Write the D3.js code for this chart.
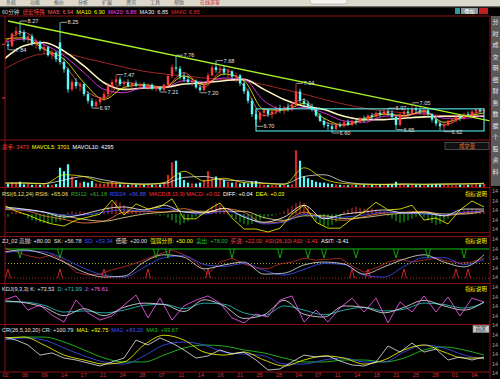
<!DOCTYPE html>
<html>
<head>
<meta charset="utf-8">
<script src="https://cdn.jsdelivr.net/npm/d3@7"></script>
<style>
body { margin: 0; background: #000; }
svg { display: block; }
text { font-family: "Liberation Sans", "Noto Sans CJK SC", sans-serif; }
</style>
</head>
<body>
<div id="chart-area"></div>
<script>
// 60 minute bars: [open, high, low, close]
var candles = [
  [7.98,8.05,7.90,7.92],[7.92,7.96,7.84,7.90],[7.90,8.10,7.88,8.08],[8.08,8.18,8.02,8.12],[8.12,8.27,8.05,8.10],
  [8.10,8.14,7.96,8.00],[8.00,8.06,7.94,8.04],[8.04,8.08,7.90,7.94],[7.94,8.00,7.86,7.96],[7.96,7.98,7.82,7.85],
  [7.85,7.92,7.78,7.88],[7.88,7.90,7.74,7.76],[7.76,7.84,7.70,7.80],[7.80,7.82,7.66,7.70],[7.95,8.25,7.62,7.66],
  [7.66,7.72,7.50,7.55],[7.55,7.58,7.20,7.25],[7.25,7.40,7.22,7.36],[7.36,7.42,7.26,7.30],[7.30,7.36,7.22,7.33],
  [7.33,7.35,7.15,7.18],[7.18,7.22,7.04,7.08],[7.08,7.12,6.97,7.00],[7.00,7.10,6.98,7.06],[7.06,7.14,7.02,7.12],
  [7.12,7.22,7.08,7.18],[7.18,7.34,7.14,7.30],[7.30,7.40,7.24,7.36],[7.36,7.47,7.30,7.40],[7.40,7.44,7.30,7.33],
  [7.33,7.38,7.26,7.35],[7.35,7.40,7.28,7.30],[7.30,7.36,7.26,7.34],[7.34,7.38,7.28,7.31],[7.31,7.35,7.25,7.33],
  [7.33,7.36,7.26,7.28],[7.28,7.34,7.24,7.32],[7.32,7.34,7.24,7.26],[7.26,7.30,7.22,7.28],[7.28,7.30,7.21,7.24],
  [7.24,7.34,7.22,7.32],[7.32,7.48,7.30,7.45],[7.45,7.62,7.42,7.58],[7.58,7.76,7.52,7.56],[7.56,7.60,7.40,7.44],
  [7.44,7.50,7.36,7.40],[7.40,7.46,7.32,7.36],[7.36,7.42,7.30,7.38],[7.38,7.40,7.26,7.28],[7.28,7.32,7.20,7.24],
  [7.24,7.36,7.22,7.34],[7.34,7.50,7.32,7.46],[7.46,7.62,7.44,7.58],[7.58,7.68,7.50,7.54],[7.54,7.60,7.46,7.56],
  [7.56,7.60,7.46,7.50],[7.50,7.56,7.42,7.52],[7.52,7.54,7.40,7.44],[7.44,7.50,7.36,7.46],[7.46,7.48,7.30,7.34],
  [7.34,7.38,7.18,7.22],[7.22,7.26,7.04,7.08],[7.08,7.12,6.84,6.88],[6.88,6.94,6.70,6.80],[6.80,6.92,6.76,6.90],
  [6.90,6.98,6.84,6.94],[6.94,6.96,6.84,6.88],[6.88,6.94,6.82,6.92],[6.92,7.00,6.88,6.96],[6.96,7.02,6.90,6.94],
  [6.94,7.00,6.88,6.98],[6.98,7.04,6.92,6.96],[6.96,7.06,6.92,7.02],[7.02,7.34,7.00,7.22],[7.22,7.26,7.04,7.08],
  [7.08,7.12,7.00,7.04],[7.04,7.08,6.96,7.00],[7.00,7.04,6.92,6.95],[6.95,6.98,6.84,6.86],[6.86,6.90,6.76,6.78],
  [6.78,6.82,6.68,6.72],[6.72,6.76,6.64,6.70],[6.70,6.74,6.60,6.66],[6.66,6.74,6.64,6.72],[6.72,6.76,6.68,6.70],
  [6.70,6.78,6.68,6.76],[6.76,6.80,6.70,6.72],[6.72,6.80,6.70,6.78],[6.78,6.82,6.72,6.76],[6.76,6.84,6.74,6.82],
  [6.82,6.86,6.76,6.80],[6.80,6.88,6.78,6.86],[6.86,6.90,6.80,6.84],[6.84,6.92,6.82,6.90],[6.90,6.94,6.84,6.88],
  [6.88,6.96,6.86,6.92],[6.92,6.97,6.86,6.90],[6.90,6.94,6.80,6.84],[6.84,6.86,6.65,6.72],[6.72,6.90,6.70,6.88],
  [6.88,6.96,6.84,6.92],[6.92,6.98,6.86,6.90],[6.90,7.05,6.88,6.96],[6.96,7.00,6.90,6.94],[6.94,6.98,6.88,6.92],
  [6.92,6.96,6.86,6.94],[6.94,6.96,6.84,6.88],[6.88,6.90,6.76,6.80],[6.80,6.84,6.70,6.74],[6.74,6.78,6.64,6.70],
  [6.70,6.76,6.62,6.72],[6.72,6.80,6.70,6.78],[6.78,6.82,6.74,6.80],[6.80,6.86,6.76,6.84],[6.84,6.88,6.78,6.82],
  [6.82,6.90,6.80,6.88],[6.88,6.92,6.84,6.86],[6.86,6.94,6.84,6.92],[6.92,6.96,6.88,6.95],[6.95,6.97,6.90,6.93],
  [6.93,6.97,6.90,6.94]
];

var volumes = [
  4000,3500,5000,4500,6000,3000,3500,2500,3000,2500,3000,2800,2500,3500,
  22000,18000,26000,12000,8000,5000,6000,5000,7000,4000,4000,3500,5000,6000,5000,3000,
  3000,2500,3500,2800,3000,2500,3000,2600,2800,3000,
  5000,14000,28000,30000,16000,8000,5000,4000,4000,5000,
  8000,18000,10000,12000,9000,8000,6000,5000,6000,4000,
  5000,4000,6000,7000,3000,2500,2200,2400,2000,2500,
  2200,2600,3000,42000,30000,12000,10000,8000,6000,5000,
  5000,4000,3500,3000,2500,2200,2000,2400,2200,2000,
  2200,2000,2400,2500,2200,2000,3000,2800,6000,3500,
  3000,2500,2800,2400,2200,2000,2400,2600,3000,2800,
  3000,2400,2200,2000,2400,2200,2500,3000,3200,3000,3473
];

var dateLabels = ["02","06","09","14","17","21","24","28","07","11","14","16","21",
                  "25","28","04","07","11","14","18","21","25","28","01","04"];

// moving averages, one value every 5 bars
var ma5  = [7.95,8.10,7.86,7.62,7.25,7.12,7.36,7.30,7.28,7.50,7.28,7.55,7.30,6.86,6.96,7.10,6.76,6.72,6.82,6.90,6.84,6.94,6.72,6.84,6.94];
var ma10 = [8.00,8.02,7.85,7.70,7.35,7.10,7.28,7.32,7.28,7.45,7.32,7.48,7.38,6.95,6.94,7.04,6.82,6.72,6.80,6.88,6.86,6.92,6.76,6.84,6.90];
var ma20 = [7.95,8.00,7.92,7.75,7.50,7.25,7.20,7.28,7.28,7.38,7.36,7.42,7.40,7.08,6.95,6.98,6.90,6.78,6.76,6.85,6.86,6.90,6.82,6.82,6.86];
var ma30 = [7.70,7.90,7.95,7.82,7.60,7.35,7.25,7.27,7.28,7.33,7.35,7.38,7.40,7.25,7.10,7.00,6.95,6.85,6.80,6.80,6.82,6.84,6.85,6.85,6.85];
var ma60 = [7.55,7.70,7.78,7.78,7.72,7.65,7.58,7.52,7.48,7.45,7.42,7.40,7.38,7.32,7.25,7.18,7.10,7.03,6.97,6.93,6.90,6.88,6.86,6.85,6.85];

// [bar, price] of the marked highs and lows
var priceMarks = [[4,8.27],[14,8.25],[1,7.84],[22,6.97],[28,7.47],[39,7.21],[43,7.76],[49,7.20],
                  [53,7.68],[63,6.70],[73,7.34],[82,6.60],[96,6.97],[98,6.65],[102,7.05],[110,6.62]];
var trendLine = [[1,8.27],[121.5,6.78]];
var boxRange = [63,120,6.96,6.63];

var mavol5  = [4500,4500,3500,14000,12000,5000,4000,3000,5000,18000,7000,10000,5000,4000,3000,22000,9000,4000,3000,3000,3500,3000,3500,3500,3700];
var mavol10 = [4500,4600,4000,8000,12000,8000,4500,3500,4000,11000,12000,8000,7000,4500,3500,12000,14000,6000,3500,3000,3200,3200,3200,3500,4300];

// RSI6 one value every 3 bars, others every 5 bars
var rsi6 = [73,59,50,38,29,24,38,45,52,85,50,76,64,69,88,41,41,62,78,43,17,17,10,19,52,73,33,19,19,41,57,80,62,64,73,38,43,29,62,83,69];
var rsi12 = [69,64,57,45,52,64,69,62,73,57,55,66,45,33,45,73,41,52,57,62,55,55,48,64,64];
var rsi24 = [66,62,57,50,50,57,62,59,66,57,52,59,48,29,33,52,43,45,50,57,55,52,50,57,59];
var diff = [0.05,0.04,-0.02,-0.06,-0.10,-0.08,0.02,0.03,0.02,0.06,0.01,0.06,0.02,-0.10,-0.08,0.02,-0.04,-0.07,-0.03,0.01,0.02,0.03,-0.02,0.01,0.04];
var dea  = [0.06,0.05,0.02,-0.02,-0.06,-0.08,-0.04,0.00,0.02,0.03,0.03,0.03,0.03,-0.04,-0.07,-0.02,-0.02,-0.05,-0.04,-0.01,0.01,0.02,0.00,0.00,0.03];
var macdBar = [
  -0.02,-0.03,0.02,0.03,0.02,-0.01,
  -0.05,-0.07,-0.08,-0.09,-0.10,-0.11,-0.10,-0.09,-0.08,-0.06,
  0.02,0.03,0.02,0.03,0.02,0.01,
  -0.02,-0.01,0.01,
  0.04,0.08,0.12,0.15,0.13,0.10,0.07,
  0.05,0.04,0.03,0.02,0.02,0.01,-0.01,-0.02,-0.01,
  -0.04,-0.07,-0.10,-0.12,-0.10,-0.08,-0.05,
  -0.03,-0.02,0.01,
  0.05,0.09,0.12,0.10,0.07,0.04,
  -0.03,-0.06,-0.09,-0.11,-0.12,-0.11,-0.09,-0.07,
  -0.05,-0.03,-0.02,-0.01,0.01,
  0.03,0.06,0.09,0.12,0.14,0.12,0.08,
  -0.04,-0.08,-0.11,-0.13,-0.14,-0.12,-0.09,-0.06,
  0.03,0.05,0.07,0.08,0.07,0.06,0.05,0.06,0.05,0.04,0.03,
  -0.02,-0.05,-0.08,-0.10,-0.09,-0.07,-0.05,-0.03,-0.02,
  -0.04,-0.07,-0.10,-0.12,-0.11,-0.08,-0.05,
  0.01,0.02,0.03,0.04,0.05,0.06,0.05,0.04,0.03
];

var zjLevels = [80,50,20];
var zjSk = [74,78,70,53,32,22,24,53,68,63,39,47,53,28,30,47,53,49,28,43,59,68,53,43,68];
var zjSd = [72,76,74,60,40,26,22,42,62,66,48,44,50,36,26,38,50,48,26,22,44,62,62,48,58];
var asi = [82,74,66,61,68,55,32,26,28,37,43,51,61,70,78,68,53,28,53,61,49,41,39,49,53,61,57,59,61,45,32,41,53,59,53,57,61,55,51,53,61];
var sellMarks = [4,14,38,41,57,69,76,80,88,98,106,115];
var buyMarks = [1,14,25,36,51,87,91,100,113,116];

var kdjK = [78,72,55,25,50,25,55,70,65,40,82,60,15,28,80,30,20,60,55,35,55,80,60,45,74];
var kdjD = [75,74,62,38,42,35,45,62,66,50,70,66,35,25,60,45,28,45,55,42,48,70,65,52,72];
var kdjJ = [81,96,45,63,27,2,81,35,9,24,63,99,17,88,9,60,81,96,70,17,-1,31,20,81,96,2,45,2,53,88,38,88,-1,74,38,96,38,92,24,88,74];

var crLine = [233,213,180,113,127,93,80,60,40,67,93,213,180,227,193,147,93,107,147,120,133,80,13,20,67,113,100,107,73,47,40,67,173,133,193,133,153,80,100,80,100];
var crMa1 = [227,233,180,113,80,53,67,180,245,213,133,113,133,80,40,80,107,93,53,80,147,180,133,93,93];
var crMa2 = [213,227,213,160,107,67,53,107,180,200,180,133,120,107,53,53,80,93,67,67,133,180,160,113,87];
var crMa3 = [213,233,233,200,147,93,67,67,113,160,180,173,147,127,93,67,67,80,80,67,93,147,167,147,113];

var W = 500, H = 379;
var svg = d3.select("#chart-area").append("svg")
    .attr("width", W)
    .attr("height", H)
    .style("background", "#000");

var frame = "#8c1010";
var red = "#ff3c3c", cyan = "#54fcfc", yellow = "#ffff00", white = "#ffffff",
    magenta = "#ff40ff", green = "#20c020", blue = "#4050ff";

var x = d3.scaleLinear().domain([0, candles.length - 1]).range([4, 484]);
var xDate = d3.scaleLinear().domain([0, dateLabels.length - 1]).range([5, 474]);

var panels = {
    price: { top: 16.5, bottom: 140 },
    vol:   { top: 150, bottom: 187 },
    rsi:   { top: 197, bottom: 236 },
    zj:    { top: 244, bottom: 283 },
    kdj:   { top: 292, bottom: 324 },
    cr:    { top: 333, bottom: 372 }
};

var defs = svg.append("defs");
Object.keys(panels).forEach(function(k) {
    var p = panels[k];
    defs.append("clipPath").attr("id", "clip-" + k)
        .append("rect")
        .attr("x", 5.5).attr("y", p.top)
        .attr("width", 484).attr("height", p.bottom - p.top);
});

function layer(name) {
    return svg.append("g").attr("clip-path", "url(#clip-" + name + ")");
}

function series(arr, step) {
    return arr.map(function(v, k) { return { i: k * step, v: v }; });
}

function drawLine(g, data, y, color, width, smooth) {
    var line = d3.line()
        .x(function(d) { return x(d.i); })
        .y(function(d) { return y(d.v); })
        .curve(smooth ? d3.curveMonotoneX : d3.curveLinear);
    g.append("path")
        .datum(data)
        .attr("d", line)
        .attr("fill", "none")
        .attr("stroke", color)
        .attr("stroke-width", width || 0.8);
}

function title(yPos, parts, x0) {
    var t = svg.append("text")
        .attr("x", x0 || 2)
        .attr("y", yPos)
        .attr("font-size", "5.6px");
    parts.forEach(function(p, k) {
        t.append("tspan")
            .attr("dx", k == 0 ? 0 : 3)
            .attr("fill", p[1])
            .text(p[0]);
    });
}

function button(x0, y0, w, h, label, fill, stroke, color) {
    svg.append("rect")
        .attr("x", x0).attr("y", y0)
        .attr("width", w).attr("height", h)
        .attr("fill", fill).attr("stroke", stroke).attr("stroke-width", 0.6);
    svg.append("text")
        .attr("x", x0 + w / 2).attr("y", y0 + h - 1.6)
        .attr("text-anchor", "middle")
        .attr("font-size", "5.4px")
        .attr("fill", color)
        .text(label);
}

// top menu strip
svg.append("rect").attr("x", 0).attr("y", 0).attr("width", W).attr("height", 6.5).attr("fill", "#dcd9cc");
svg.append("rect").attr("x", 0).attr("y", 6.5).attr("width", W).attr("height", 0.8).attr("fill", "#6c6a60");
["系统", "功能", "报价", "分析", "扩展", "资讯", "工具", "帮助"].forEach(function(s, k) {
    svg.append("text").attr("x", 6 + k * 24).attr("y", 3.6).attr("font-size", "5px")
        .attr("fill", "#555").text(s);
});
svg.append("text").attr("x", 200).attr("y", 3.6).attr("font-size", "5px").attr("fill", "#d02020").text("在线游客");
svg.append("rect").attr("x", 310).attr("y", -2).attr("width", 37).attr("height", 6)
    .attr("rx", 3).attr("fill", "#f4f4f0").attr("stroke", "#999").attr("stroke-width", 0.5);

// frame lines
[16, 140, 187.5, 236.5, 283.5, 324.5, 372].forEach(function(yy) {
    svg.append("line").attr("x1", 0).attr("x2", 490).attr("y1", yy).attr("y2", yy)
        .attr("stroke", frame).attr("stroke-width", 1);
});
svg.append("line").attr("x1", 5).attr("x2", 5).attr("y1", 16).attr("y2", 372)
    .attr("stroke", frame).attr("stroke-width", 1);
svg.append("line").attr("x1", 490).attr("x2", 490).attr("y1", 16).attr("y2", 379)
    .attr("stroke", frame).attr("stroke-width", 1);

// ---- price panel
var yPrice = d3.scaleLinear().domain([6.60, 8.27]).range([133, 21]);
var gp = layer("price");

drawLine(gp, series(ma60, 5), yPrice, "#b02828", 0.9, true);
drawLine(gp, series(ma30, 5), yPrice, "#fff4c0", 1.6, true);
drawLine(gp, series(ma20, 5), yPrice, magenta, 0.8, true);
drawLine(gp, series(ma10, 5), yPrice, yellow, 0.8, true);
drawLine(gp, series(ma5, 5), yPrice, "#ff6060", 0.8, true);

var bw = 2.4;
var cg = gp.selectAll(".candle").data(candles).enter().append("g").attr("class", "candle");
cg.append("line")
    .attr("x1", function(d, i) { return x(i); })
    .attr("x2", function(d, i) { return x(i); })
    .attr("y1", function(d) { return yPrice(d[1]); })
    .attr("y2", function(d) { return yPrice(d[2]); })
    .attr("stroke", function(d) { return d[3] >= d[0] ? red : cyan; })
    .attr("stroke-width", 0.8);
cg.append("rect")
    .attr("x", function(d, i) { return x(i) - bw / 2; })
    .attr("y", function(d) { return yPrice(Math.max(d[0], d[3])); })
    .attr("width", bw)
    .attr("height", function(d) { return Math.max(0.8, Math.abs(yPrice(d[0]) - yPrice(d[3]))); })
    .attr("fill", function(d) { return d[3] >= d[0] ? red : cyan; });

gp.append("line")
    .attr("x1", x(trendLine[0][0])).attr("y1", yPrice(trendLine[0][1]))
    .attr("x2", x(trendLine[1][0])).attr("y2", yPrice(trendLine[1][1]))
    .attr("stroke", "#a8f028").attr("stroke-width", 1.3);

gp.append("rect")
    .attr("x", x(boxRange[0])).attr("y", yPrice(boxRange[2]))
    .attr("width", x(boxRange[1]) - x(boxRange[0]))
    .attr("height", yPrice(boxRange[3]) - yPrice(boxRange[2]))
    .attr("fill", "none").attr("stroke", "#60ffff").attr("stroke-width", 1);

priceMarks.forEach(function(m) {
    var px = x(m[0]), py = yPrice(m[1]);
    gp.append("line").attr("x1", px + 0.5).attr("x2", px + 7).attr("y1", py).attr("y2", py)
        .attr("stroke", "#e0e0e0").attr("stroke-width", 0.7);
    gp.append("text").attr("x", px + 7.5).attr("y", py + 2)
        .attr("font-size", "5.6px").attr("fill", "#e0e0e0")
        .text(m[1].toFixed(2));
});

// left price ticks
svg.append("g")
    .attr("transform", "translate(5,0)")
    .call(d3.axisLeft(yPrice).tickValues([7.93, 7.13]).tickSize(3).tickFormat(""))
    .call(function(g) {
        g.select(".domain").remove();
        g.selectAll("line").attr("stroke", red);
    });

// ---- volume panel
var yVol = d3.scaleLinear().domain([0, 40000]).range([187, 152]);
var gv = layer("vol");
gv.selectAll(".vbar").data(volumes).enter().append("rect")
    .attr("x", function(d, i) { return x(i) - 1.1; })
    .attr("y", function(d) { return yVol(d); })
    .attr("width", 2.2)
    .attr("height", function(d) { return 187 - yVol(d); })
    .attr("fill", function(d, i) { return candles[i][3] >= candles[i][0] ? "#d02828" : cyan; });
drawLine(gv, series(mavol10, 5), yVol, white, 0.7, true);
drawLine(gv, series(mavol5, 5), yVol, yellow, 0.7, true);

// ---- RSI / MACD panel
var yRsi = d3.scaleLinear().domain([10, 90]).range([232, 198]);
var yMacd = d3.scaleLinear().domain([-0.2, 0.2]).range([232, 196]);
var gr = layer("rsi");
gr.append("line").attr("x1", 5).attr("x2", 490).attr("y1", 232.5).attr("y2", 232.5)
    .attr("stroke", frame).attr("stroke-width", 0.8);
gr.selectAll(".mbar").data(macdBar).enter().append("line")
    .attr("x1", function(d, i) { return x(i); })
    .attr("x2", function(d, i) { return x(i); })
    .attr("y1", yMacd(0))
    .attr("y2", function(d) { return yMacd(d); })
    .attr("stroke", function(d) { return d >= 0 ? "#e03030" : "#10c010"; })
    .attr("stroke-width", 1);
drawLine(gr, series(diff, 5), yMacd, "#ff8040", 0.8, true);
drawLine(gr, series(dea, 5), yMacd, "#f0e090", 0.8, true);
drawLine(gr, series(rsi24, 5), yRsi, blue, 0.8, true);
drawLine(gr, series(rsi12, 5), yRsi, white, 0.8, true);
drawLine(gr, series(rsi6, 3), yRsi, yellow, 0.8, false);

// ---- ZJ_02 panel
var yZj = d3.scaleLinear().domain([0, 100]).range([287.7, 239.3]);
var gz = layer("zj");
gz.append("line").attr("x1", 5).attr("x2", 490).attr("y1", yZj(zjLevels[0])).attr("y2", yZj(zjLevels[0]))
    .attr("stroke", "#10c010").attr("stroke-width", 1);
gz.append("line").attr("x1", 5).attr("x2", 490).attr("y1", yZj(zjLevels[1])).attr("y2", yZj(zjLevels[1]))
    .attr("stroke", "#d0d000").attr("stroke-width", 0.8).attr("stroke-dasharray", "1,2");
gz.append("line").attr("x1", 5).attr("x2", 490).attr("y1", yZj(zjLevels[2])).attr("y2", yZj(zjLevels[2]))
    .attr("stroke", "#ff3030").attr("stroke-width", 0.8).attr("stroke-dasharray", "1,2");
drawLine(gz, series(asi, 3), yZj, "#e03030", 0.7, false);
drawLine(gz, series(zjSd, 5), yZj, blue, 0.8, true);
drawLine(gz, series(zjSk, 5), yZj, "#e0e0e0", 0.8, true);
sellMarks.forEach(function(i) {
    var px = x(i), py = yZj(80);
    gz.append("path").attr("d", "M" + (px - 2.5) + "," + py + "L" + px + "," + (py + 9) + "L" + (px + 2.5) + "," + py)
        .attr("fill", "none").attr("stroke", "#10d010").attr("stroke-width", 0.8);
});
buyMarks.forEach(function(i) {
    var px = x(i), py = yZj(20);
    gz.append("path").attr("d", "M" + (px - 2.5) + "," + py + "L" + px + "," + (py - 9) + "L" + (px + 2.5) + "," + py)
        .attr("fill", "none").attr("stroke", "#ff3030").attr("stroke-width", 0.8);
});

// ---- KDJ panel
var yKdj = d3.scaleLinear().domain([-5, 110]).range([324, 292]);
var gk = layer("kdj");
drawLine(gk, series(kdjD, 5), yKdj, "#30c8c8", 0.8, true);
drawLine(gk, series(kdjK, 5), yKdj, "#e8e8e8", 0.8, true);
drawLine(gk, series(kdjJ, 3), yKdj, "#ff60ff", 0.8, false);

// ---- CR panel
var yCr = d3.scaleLinear().domain([0, 250]).range([372, 334.5]);
var gc = layer("cr");
drawLine(gc, series(crMa3, 5), yCr, green, 0.9, true);
drawLine(gc, series(crMa2, 5), yCr, blue, 0.8, true);
drawLine(gc, series(crMa1, 5), yCr, yellow, 0.8, true);
drawLine(gc, series(crLine, 3), yCr, "#e8e8e8", 0.8, false);

// ---- date axis
svg.append("g")
    .attr("transform", "translate(0,372)")
    .call(d3.axisBottom(xDate).tickValues(d3.range(dateLabels.length))
        .tickSize(0).tickFormat(function(i) { return dateLabels[i]; }))
    .call(function(g) {
        g.select(".domain").remove();
        g.selectAll("text").attr("fill", "#d83030").attr("font-size", "5.6px")
            .attr("dy", "0.55em").attr("y", 1.5).attr("font-family", "Liberation Sans");
    });

// ---- titles
title(14, [["60分钟", "#d0d0d0"], ["德宏特殊", red], ["MA5: 6.94", "#ff6060"], ["MA10: 6.90", yellow],
           ["MA20: 6.86", magenta], ["MA30: 6.85", "#f0f0f0"], ["MA60: 6.85", "#e03030"]]);
title(148.5, [["总手: 3473", red], ["MAVOL5: 3701", yellow], ["MAVOL10: 4295", white]]);
title(195.5, [["RSI(6,12,24) RSI6: +65.06", "#f0e070"], ["RSI12: +61.18", "#30b030"], ["RSI24: +56.88", blue],
              ["MACD(8,15,9) MACD: +0.02", "#ff3030"], ["DIFF: +0.04", white], ["DEA: +0.03", yellow]]);
title(242.5, [["ZJ_02 高抛: +80.00", "#e0e0e0"], ["SK: +56.78", "#e0e0e0"], ["SD: +53.34", blue],
              ["低吸: +20.00", "#e0e0e0"], ["强弱分界: +50.00", yellow], ["卖出: +78.00", green],
              ["买进: +22.00", red], ["ASI(26,10) ASI: -1.41", red], ["ASIT: -3.41", white]]);
title(290.5, [["KDJ(9,3,3) K: +73.53", "#e0e0e0"], ["D: +71.99", "#30c8c8"], ["J: +76.61", "#ff60ff"]]);
title(331.5, [["CR(26,5,10,20) CR: +100.79", "#e0e0e0"], ["MA1: +92.75", yellow], ["MA2: +83.20", blue],
              ["MA3: +93.67", green]]);

// ---- buttons
button(445, 142.5, 44, 7, "成交量", "#101010", "#707070", "#e07030");
["191", "238", "286"].forEach(function(yy) {
    button(463, +yy, 26, 7, "指标说明", "#000", "#000", yellow);
});
button(473, 325.5, 16, 7, "画区", "#c8c8c8", "#888", "#333");

// top right tool
svg.append("rect").attr("x", 455).attr("y", 8).attr("width", 5).attr("height", 6).attr("fill", "#2a9a9a");
svg.append("rect").attr("x", 461).attr("y", 8).attr("width", 17).attr("height", 6).attr("fill", "#8a9aa0");
svg.append("text").attr("x", 469.5).attr("y", 12.8).attr("text-anchor", "middle").attr("font-size", "5px")
    .attr("fill", "#fff").text("叠加");
svg.append("rect").attr("x", 479).attr("y", 8).attr("width", 9).attr("height", 6).attr("fill", "#c02020");

// right side strip
svg.append("rect").attr("x", 491).attr("y", 16).attr("width", 9).attr("height", 170).attr("fill", "#5a5a5a");
"分时成交明细财务数据个股资料".split("").forEach(function(c, k) {
    svg.append("text").attr("x", 495.5).attr("y", 24 + k * 11.5).attr("text-anchor", "middle")
        .attr("font-size", "6px").attr("fill", "#e8e8e8").text(c);
});
d3.range(20).forEach(function(k) {
    svg.append("text").attr("x", 492).attr("y", 193 + k * 9.6).attr("font-size", "5.6px")
        .attr("fill", "#a0a0a0").text("14");
});
</script>
</body>
</html>
